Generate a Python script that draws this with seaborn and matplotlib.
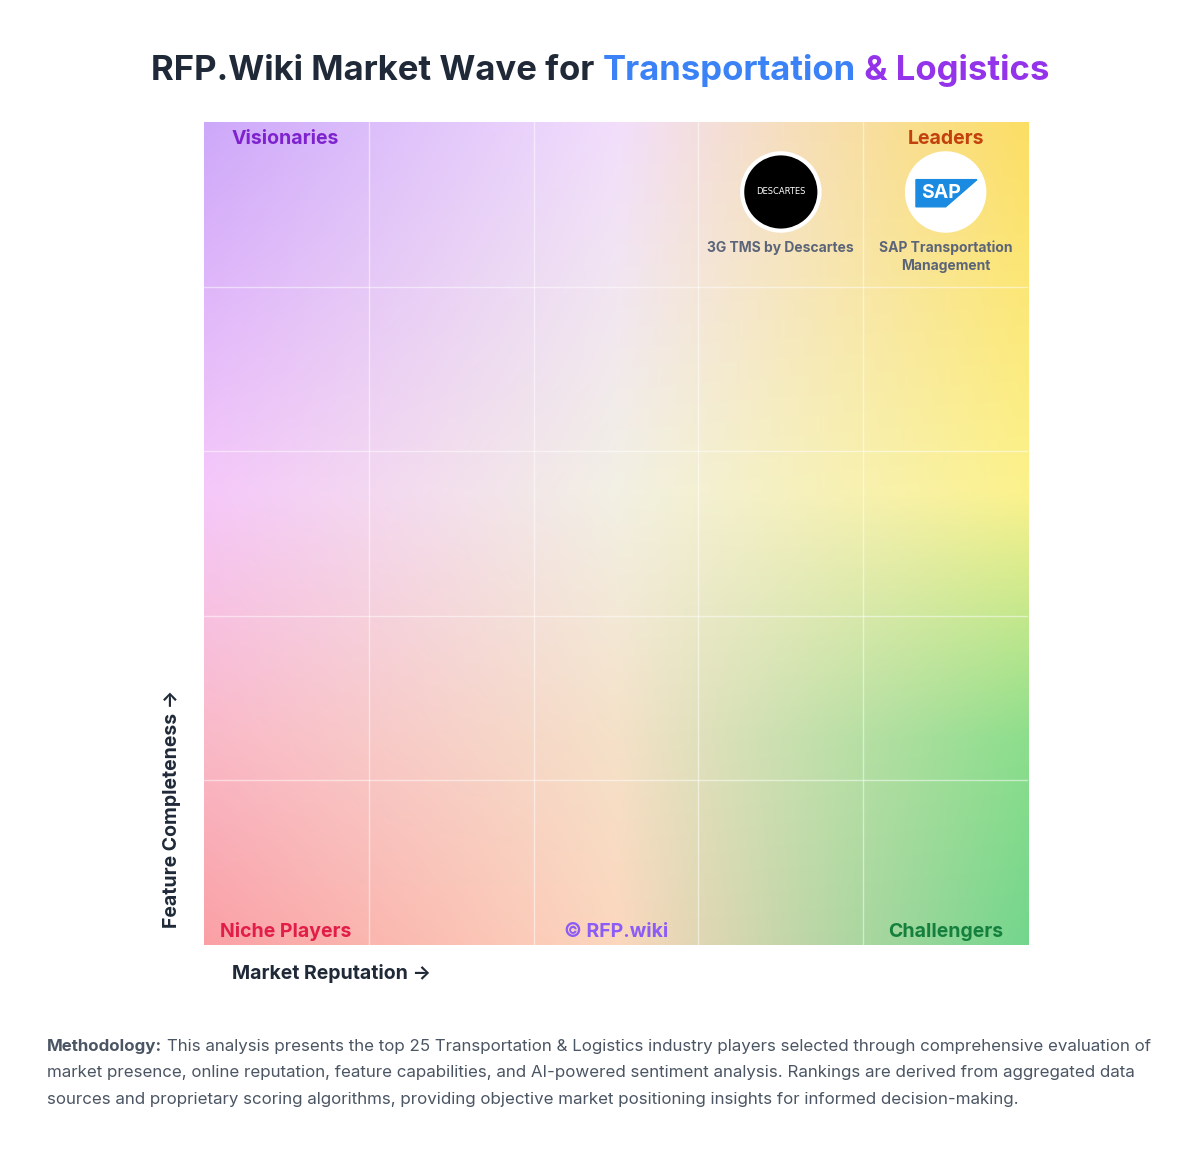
import numpy as np
import seaborn as sns
import matplotlib.pyplot as plt
from matplotlib.patches import Polygon

sns.set_style("white")
plt.rcParams['font.family'] = ['Inter', 'DejaVu Sans']

# data
vendors = ["3G TMS by Descartes", "SAP Transportation\nManagement"]
reputation = [70, 90]
completeness = [91.5, 91.5]
logo_bg = ["#000000", "#ffffff"]

# background colour control grid (rows top->bottom, cols left->right)
row_pos = [0.0, 0.45, 0.75, 1.0]
col_pos = [0.0, 0.5, 1.0]
ctrl = np.array([
    [[205, 168, 250], [242, 222, 252], [252, 222, 100]],
    [[245, 200, 250], [242, 240, 228], [252, 242, 140]],
    [[250, 185, 200], [245, 225, 200], [140, 222, 140]],
    [[250, 160, 165], [252, 215, 190], [115, 214, 140]],
]) / 255.0

def upsample(c, n=300):
    t = np.linspace(0, 1, n)
    rows = np.stack([[np.interp(t, row_pos, c[:, j, k]) for k in range(3)]
                     for j in range(c.shape[1])])  # (cols, 3, n)
    img = np.zeros((n, n, 3))
    for i in range(n):
        for k in range(3):
            img[i, :, k] = np.interp(t, col_pos, rows[:, k, i])
    return img

fig = plt.figure(figsize=(12, 11.6), dpi=100)
ax = fig.add_axes([0.17, 0.1853, 0.6867, 0.7095])
ax.imshow(upsample(ctrl), extent=[0, 100, 0, 100], origin="upper", aspect="auto", zorder=0)
for v in [20, 40, 60, 80]:
    ax.axvline(v, color="white", alpha=0.5, lw=1)
    ax.axhline(v, color="white", alpha=0.5, lw=1)
ax.set_xlim(0, 100)
ax.set_ylim(0, 100)
ax.set_xticks([])
ax.set_yticks([])
for s in ax.spines.values():
    s.set_visible(False)

sns.scatterplot(x=reputation, y=completeness, s=3100, c=logo_bg, edgecolor="white",
                linewidth=3, ax=ax, zorder=3, legend=False)
ax.text(reputation[0], completeness[0], "DESCARTES", color="white", fontsize=6,
        ha="center", va="center", zorder=4, family="DejaVu Sans")
sx, sy = reputation[1], completeness[1]
ax.add_patch(Polygon([[sx - 3.6, sy + 1.5], [sx + 3.8, sy + 1.5], [sx, sy - 1.8], [sx - 3.6, sy - 1.8]],
                     closed=True, color="#1a8be0", zorder=4))
ax.text(sx - 0.6, sy - 0.1, "SAP", color="white", fontsize=14, fontweight="bold",
        ha="center", va="center", zorder=5)
for x, y, name in zip(reputation, completeness, vendors):
    ax.text(x, y - 5.9, name, ha="center", va="top", fontsize=10, fontweight="bold",
            color="#5b6478", linespacing=1.4, zorder=4)

ax.text(3.4, 99, "Visionaries", color="#7e22ce", fontsize=14, fontweight="bold", va="top")
ax.text(90, 99, "Leaders", color="#c2410c", fontsize=14, fontweight="bold", va="top", ha="center")
ax.text(2, 0.5, "Niche Players", color="#e11d48", fontsize=14, fontweight="bold", va="bottom")
ax.text(90, 0.5, "Challengers", color="#15803d", fontsize=14, fontweight="bold", va="bottom", ha="center")
ax.text(50, 0.5, "© RFP.wiki", color="#8b5cf6", fontsize=14, fontweight="bold", va="bottom", ha="center")

fig.text(0.193, 0.156, "Market Reputation →", fontsize=14, fontweight="bold", color="#1f2937")
fig.text(0.143, 0.2, "Feature Completeness →", fontsize=14, fontweight="bold", color="#1f2937",
         rotation=90, va="bottom", ha="center")

# title in pieces
fig.canvas.draw()
r = fig.canvas.get_renderer()
parts = [("RFP.Wiki Market Wave for ", "#1f2937"), ("Transportation", "#3b82f6"),
         (" & Logistics", "#9333ea")]
texts = []
for s, c in parts:
    texts.append(fig.text(0, 0.939, s, fontsize=25, fontweight="bold", color=c, va="center"))
widths = [t.get_window_extent(r).width / fig.bbox.width for t in texts]
x0 = 0.5 - sum(widths) / 2
for t, w in zip(texts, widths):
    t.set_x(x0)
    x0 += w

meth = ["This analysis presents the top 25 Transportation & Logistics industry players selected through comprehensive evaluation of",
        "market presence, online reputation, feature capabilities, and AI-powered sentiment analysis. Rankings are derived from aggregated data",
        "sources and proprietary scoring algorithms, providing objective market positioning insights for informed decision-making."]
b = fig.text(0.039, 0.098, "Methodology:", fontsize=12.2, fontweight="bold", color="#4b5563", va="center")
bw = b.get_window_extent(r).width / fig.bbox.width
fig.text(0.039 + bw + 0.004, 0.098, meth[0], fontsize=12.2, color="#4b5563", va="center")
fig.text(0.039, 0.0755, meth[1], fontsize=12.2, color="#4b5563", va="center")
fig.text(0.039, 0.052, meth[2], fontsize=12.2, color="#4b5563", va="center")

fig.savefig("out.png", dpi=100, facecolor="white")
